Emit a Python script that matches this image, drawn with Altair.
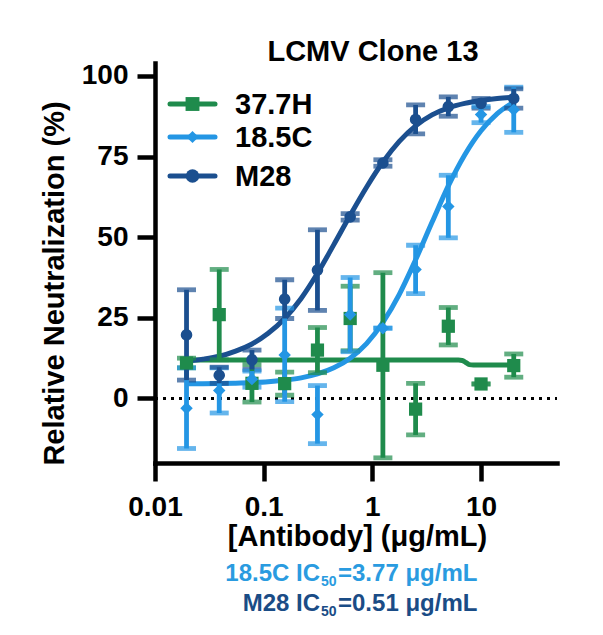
import altair as alt
import pandas as pd

FONT = "Liberation Sans"

# ---------------- data ----------------
series = ["37.7H", "18.5C", "M28"]
colors = ["#1f8b4c", "#2496e4", "#1b4f8f"]
shapes = ["square", "diamond", "circle"]
sizes = [175, 135, 165]

conc = [0.0195, 0.039, 0.078, 0.156, 0.3125, 0.625, 1.25, 2.5, 5, 10, 20]

mean_377h = [11.0, 26.0, 4.7, 4.6, 15.0, 24.8, 10.3, -3.3, 22.4, 4.5, 10.2]
sd_377h = [1.5, 14.0, 5.8, 3.6, 7.0, 10.0, 28.7, 8.0, 5.8, 0.0, 3.6]

mean_185c = [-3.0, 2.5, 6.0, 13.5, -5.0, 26.0, 21.8, 40.0, 59.5, 88.0, 89.5]
sd_185c = [12.5, 7.0, 2.5, 14.5, 9.0, 11.5, 0.0, 7.5, 9.7, 2.5, 7.0]

mean_m28 = [19.7, 7.2, 12.0, 30.8, 39.8, 56.3, 73.0, 86.5, 90.5, 91.5, 93.0]
sd_m28 = [14.0, 2.5, 3.0, 6.0, 12.5, 1.0, 1.0, 4.5, 3.0, 1.5, 3.0]

# fitted curves, values
fit_conc = [0.0195, 0.0276, 0.0391, 0.0552, 0.0781, 0.110, 0.156, 0.221,
            0.3125, 0.442, 0.625, 0.884, 1.25, 1.77, 2.5, 3.54, 5, 7.07,
            10, 14.1, 20]
fit_m28 = [11.6, 12.2, 13.1, 14.7, 16.9, 20.2, 24.8, 31.0, 38.8, 47.7, 56.8,
           65.5, 73.3, 79.7, 84.5, 87.9, 90.1, 91.5, 92.4, 93.0, 93.4]
fit_185c = [4.55, 4.6, 4.65, 4.76, 4.93, 5.2, 5.7, 6.4, 7.6, 9.5, 12.5, 17.0,
            23.6, 32.3, 43.0, 54.6, 65.9, 75.5, 83.0, 88.3, 91.9]
fit_conc_377h = [0.0195, 0.156, 1.25, 5, 6.2, 6.7, 7.25, 7.8, 8.5, 10, 20]
fit_377h = [11.9, 11.9, 11.9, 11.9, 11.9, 11.8, 11.15, 10.5, 10.4, 10.4, 10.4]

x_ticks = [0.01, 0.1, 1, 10]
y_ticks = [0, 25, 50, 75, 100]
x_domain = [0.01, 50]
y_domain = [-20, 104]

ic50_lines = [("18.5C IC", "50", "=3.77 μg/mL"), ("M28 IC", "50", "=0.51 μg/mL")]
ic50_colors = ["#2a9be0", "#1a4c86"]

# ---------------- tables ----------------
rows = []
for s, m, sd in [("37.7H", mean_377h, sd_377h), ("18.5C", mean_185c, sd_185c),
                 ("M28", mean_m28, sd_m28)]:
    for c, v, e in zip(conc, m, sd):
        rows.append({"series": s, "conc": c, "mean": v, "lo": v - e, "hi": v + e})
pts = pd.DataFrame(rows)

crow = []
for s, xs, ys in [("37.7H", fit_conc_377h, fit_377h), ("18.5C", fit_conc, fit_185c),
                  ("M28", fit_conc, fit_m28)]:
    for c, v in zip(xs, ys):
        crow.append({"series": s, "conc": c, "fit": v})
curves = pd.DataFrame(crow)

zero_df = pd.DataFrame({"x0": [x_domain[0]], "x1": [x_domain[1]], "y": [0]})

# ---------------- scales / axes ----------------
x_scale = alt.Scale(type="log", domain=x_domain, nice=False)
y_scale = alt.Scale(domain=y_domain, nice=False, zero=False)
color_scale = alt.Scale(domain=series, range=colors)
shape_scale = alt.Scale(domain=series, range=shapes)
size_scale = alt.Scale(domain=series, range=sizes)

common_axis = dict(
    labelFont=FONT, labelFontSize=28, labelFontWeight="bold", labelColor="black",
    titleFont=FONT, titleFontSize=29, titleFontWeight="bold", titleColor="black",
    tickSize=18, tickWidth=4.5, tickColor="black",
    domainColor="black", domainWidth=4.5, domainCap="square",
    grid=False, labelFlush=False, labelOverlap=False,
)
x_axis = alt.Axis(values=x_ticks, format="~g", title="[Antibody] (μg/mL)",
                  labelPadding=12, titleX=202, titleY=82,
                  titleBaseline="alphabetic", titleAlign="center", **common_axis)
y_axis = alt.Axis(values=y_ticks, title="Relative Neutralization (%)",
                  labelPadding=9, titleAngle=270, titleX=-92, titleY=220,
                  titleAlign="center", titleBaseline="alphabetic", **common_axis)

X = lambda f: alt.X(f, type="quantitative", scale=x_scale, axis=x_axis)
Y = lambda f: alt.Y(f, type="quantitative", scale=y_scale, axis=y_axis)
COL = alt.Color("series:N", scale=color_scale, legend=None)

zero_line = alt.Chart(zero_df).mark_rule(
    color="black", strokeWidth=3, strokeDash=[3, 5]
).encode(x=X("x0"), x2="x1", y=Y("y"))

curve_layer = alt.Chart(curves).mark_line(
    strokeWidth=5, interpolate="monotone"
).encode(x=X("conc"), y=Y("fit"), color=COL, detail="series:N")

err_layer = alt.Chart(pts).mark_errorbar(
    ticks=True, size=19, thickness=4.8
).encode(x=X("conc"), y=Y("lo"), y2="hi", color=COL)

pt_layer = alt.Chart(pts).mark_point(filled=True, opacity=1).encode(
    x=X("conc"), y=Y("mean"), color=COL,
    shape=alt.Shape("series:N", scale=shape_scale, legend=None),
    size=alt.Size("series:N", scale=size_scale, legend=None),
)

layers = [zero_line, curve_layer, err_layer, pt_layer]

# ---------------- manual legend (line + marker + label) ----------------
leg_y = [41, 74, 113]
for s, col, shp, sz, yy in zip(series, colors, shapes, sizes, leg_y):
    d = pd.DataFrame({"series": [s]})
    base = alt.Chart(d)
    layers.append(base.mark_rule(color=col, strokeWidth=5, strokeCap="round").encode(
        x=alt.value(15), x2=alt.value(60), y=alt.value(yy)))
    layers.append(base.mark_point(filled=True, opacity=1, color=col, shape=shp,
                                  size=sz * 1.1).encode(
        x=alt.value(37.5), y=alt.value(yy)))
    layers.append(base.mark_text(font=FONT, fontSize=29, fontWeight="bold",
                                 color="black", align="left", baseline="middle").encode(
        text="series:N", x=alt.value(80), y=alt.value(yy + 1)))

# ---------------- title ----------------
layers.append(alt.Chart(pd.DataFrame({"t": ["LCMV Clone 13"]})).mark_text(
    font=FONT, fontSize=29, fontWeight="bold", color="black",
    align="center", baseline="alphabetic").encode(
    text="t:N", x=alt.value(218), y=alt.value(-2)))

# ---------------- IC50 annotations ----------------
ann_base = [518, 548]
for (pre, sub, post), col, yb in zip(ic50_lines, ic50_colors, ann_base):
    d = pd.DataFrame({"pre": [pre], "sub": [sub], "post": [post]})
    b = alt.Chart(d)
    layers.append(b.mark_text(font=FONT, fontSize=24, fontWeight="bold", color=col,
                              align="right", baseline="alphabetic").encode(
        text="pre:N", x=alt.value(165), y=alt.value(yb)))
    layers.append(b.mark_text(font=FONT, fontSize=14, fontWeight="bold", color=col,
                              align="left", baseline="alphabetic").encode(
        text="sub:N", x=alt.value(166), y=alt.value(yb + 5)))
    layers.append(b.mark_text(font=FONT, fontSize=24, fontWeight="bold", color=col,
                              align="left", baseline="alphabetic").encode(
        text="post:N", x=alt.value(183), y=alt.value(yb)))

chart = alt.layer(*layers).properties(
    width=402, height=400,
    autosize="none",
    padding={"left": 155, "top": 63, "right": 46, "bottom": 172},
    background="white",
).configure_view(stroke=None)

chart.save("out.html", embed_options={"renderer": "svg", "actions": False})
